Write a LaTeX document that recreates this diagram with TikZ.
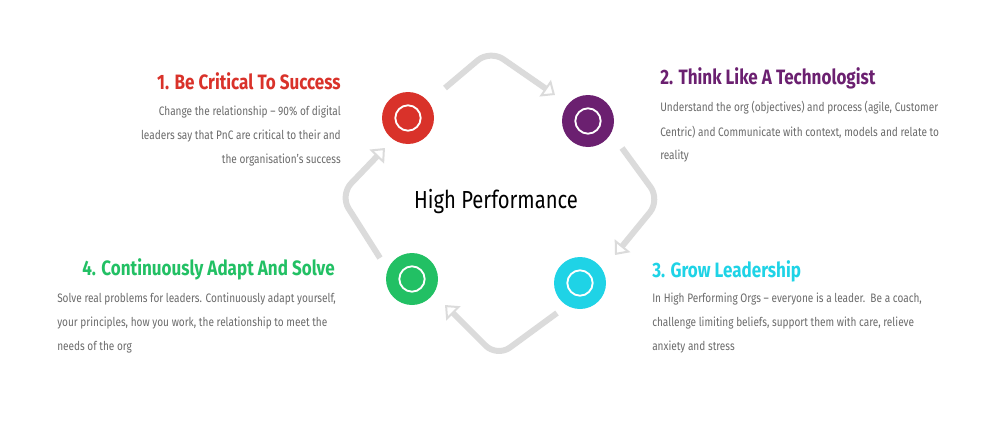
\documentclass[tikz,border=0pt]{standalone}
\usepackage{fontspec}
\setmainfont{Fira Sans}[FakeStretch=0.82]
\usetikzlibrary{arrows.meta}
\definecolor{cred}{HTML}{D9322A}
\definecolor{cpur}{HTML}{6B2070}
\definecolor{ccyan}{HTML}{1FD3E6}
\definecolor{cgreen}{HTML}{22C064}
\definecolor{body}{HTML}{6A6A6A}
\tikzset{
  dot/.style={circle,fill=#1,minimum size=39pt,inner sep=0},
  ring/.style={circle,draw=white,line width=1.4pt,minimum size=19pt,inner sep=0},
  head/.style={font=\fontsize{15.6}{18}\selectfont\bfseries,inner sep=0},
  txt/.style={font=\fontsize{9.2}{11}\selectfont,text=body,inner sep=0},
  cyc/.style={draw=gray!28,line width=4.5pt,rounded corners=12pt,line join=round,-{Triangle[open,length=9pt,width=15pt,line width=1.5pt]}},
}
\begin{document}
\begin{tikzpicture}[x=0.75pt,y=-0.75pt]
\useasboundingbox (0,0) rectangle (1000,432);
% circles
\node[dot=cred] (c1) at (408,118) {}; \node[ring] at (c1) {};
\node[dot=cpur] (c2) at (588,121) {}; \node[ring] at (c2) {};
\node[dot=ccyan] (c3) at (580,283) {}; \node[ring] at (c3) {};
\node[dot=cgreen] (c4) at (412,279) {}; \node[ring] at (c4) {};
\node[font=\fontsize{18.5}{22}\selectfont] (hp) at (496,202) {High Performance};
% arrows
\coordinate (a1s) at (445,88); \coordinate (a1m) at (490,50); \coordinate (a1e) at (555,95);
\coordinate (a2s) at (622,148); \coordinate (a2m) at (660,200); \coordinate (a2e) at (615,255);
\coordinate (a3s) at (557,313); \coordinate (a3m) at (497,357); \coordinate (a3e) at (445,305);
\coordinate (a4s) at (380,258); \coordinate (a4m) at (340,195); \coordinate (a4e) at (385,148);
\draw[cyc] (a1s) -- (a1m) -- (a1e);
\draw[cyc] (a2s) -- (a2m) -- (a2e);
\draw[cyc] (a3s) -- (a3m) -- (a3e);
\draw[cyc] (a4s) -- (a4m) -- (a4e);
% block 1
\node[head,text=cred,anchor=east] (h1) at (341,81) {1. Be Critical To Success};
\node[txt,anchor=east] (t1a) at (341,112) {Change the relationship – 90\% of digital};
\node[txt,anchor=east] (t1b) at (341,136) {leaders say that PnC are critical to their and};
\node[txt,anchor=east] (t1c) at (341,160) {the organisation’s success};
% block 2
\node[head,text=cpur,anchor=west] (h2) at (660,78) {2. Think Like A Technologist};
\node[txt,anchor=west] (t2a) at (660,108) {Understand the org (objectives) and process (agile, Customer};
\node[txt,anchor=west] (t2b) at (660,132) {Centric) and Communicate with context, models and relate to};
\node[txt,anchor=west] (t2c) at (660,156) {reality};
% block 3
\node[head,text=ccyan,anchor=west] (h3) at (652,271) {3. Grow Leadership};
\node[txt,anchor=west] (t3a) at (652,299) {In High Performing Orgs – everyone is a leader.\ \ Be a coach,};
\node[txt,anchor=west] (t3b) at (652,323) {challenge limiting beliefs, support them with care, relieve};
\node[txt,anchor=west] (t3c) at (652,347) {anxiety and stress};
% block 4
\node[head,text=cgreen,anchor=east] (h4) at (335,269) {4. Continuously Adapt And Solve};
\node[txt,anchor=west] (t4a) at (57,299) {Solve real problems for leaders. Continuously adapt yourself,};
\node[txt,anchor=west] (t4b) at (57,323) {your principles, how you work, the relationship to meet the};
\node[txt,anchor=west] (t4c) at (57,347) {needs of the org};
\end{tikzpicture}
\end{document}
